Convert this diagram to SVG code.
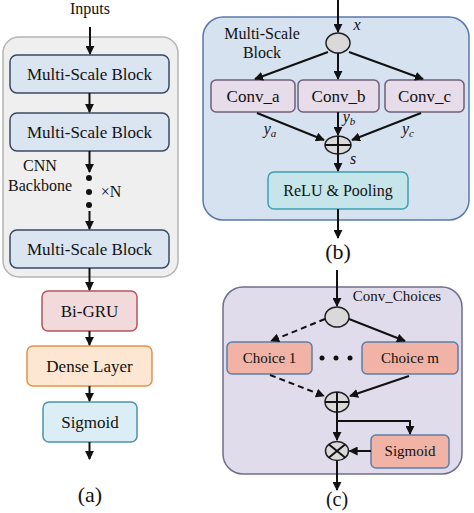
<svg xmlns="http://www.w3.org/2000/svg" width="474" height="513" viewBox="0 0 474 513">
<defs>
<marker id="ah" viewBox="0 0 10 10" refX="9" refY="5" markerWidth="4.5" markerHeight="4.5" orient="auto" markerUnits="strokeWidth">
<path d="M0,0 L10,5 L0,10 Z" fill="#111"/>
</marker>
<style>
text{font-family:"Liberation Serif","Times New Roman",serif;fill:#111;text-anchor:middle}
.t17{font-size:17px}.t16{font-size:16px}.t15{font-size:15px}.cap{font-size:22px}
.it{font-style:italic}
.msb{fill:#dbe5f1;stroke:#3b4a63;stroke-width:1.5}
.conv{fill:#e6dcea;stroke:#6d5f7a;stroke-width:1.5}
.choice{fill:#f0b3a6;stroke:#5a7fa8;stroke-width:1.5}
.circ{fill:#d9d9d9;stroke:#222;stroke-width:1.5}
.ln{stroke:#111;stroke-width:2;fill:none}
.arr{stroke:#111;stroke-width:2;fill:none;marker-end:url(#ah)}
.dash{stroke-dasharray:6,4}
</style>
</defs>
<rect width="474" height="513" fill="#fff"/>

<!-- Panel (a) -->
<g id="backbone">
<rect x="3" y="37" width="175" height="240" rx="16" fill="#efefef" stroke="#b5b5b5" stroke-width="1.5"/>
<text class="t16" x="40" y="171">CNN</text>
<text class="t16" x="40" y="191">Backbone</text>
</g>
<text class="t16" x="90" y="14">Inputs</text>
<g id="msb1"><rect class="msb" x="10" y="55" width="159" height="38" rx="7"/><text class="t17" x="89.5" y="80">Multi-Scale Block</text></g>
<g id="msb2"><rect class="msb" x="10" y="113" width="159" height="38" rx="7"/><text class="t17" x="89.5" y="138">Multi-Scale Block</text></g>
<g id="msb3"><rect class="msb" x="10" y="230" width="159" height="38" rx="7"/><text class="t17" x="89.5" y="255">Multi-Scale Block</text></g>
<g id="dots-a" fill="#111">
<circle cx="89" cy="178" r="3"/><circle cx="89" cy="192" r="3"/><circle cx="89" cy="205" r="3"/>
</g>
<text class="t16" x="111" y="197">×N</text>
<g id="bigru"><rect x="42" y="291" width="95" height="40" rx="6" fill="#f2d9dc" stroke="#b5555e" stroke-width="1.5"/><text class="t17" x="89.5" y="317">Bi-GRU</text></g>
<g id="dense"><rect x="27" y="346" width="125" height="40" rx="6" fill="#fde6d2" stroke="#e8914a" stroke-width="1.5"/><text class="t17" x="89.5" y="372">Dense Layer</text></g>
<g id="sigmoid-a"><rect x="43" y="402" width="94" height="40" rx="6" fill="#dceef5" stroke="#4b93ab" stroke-width="1.5"/><text class="t17" x="90" y="428">Sigmoid</text></g>
<text class="cap" x="90" y="502">(a)</text>

<!-- Panel (b) -->
<g id="msb-detail">
<rect x="203" y="17" width="266" height="203" rx="20" fill="#d6e2ef" stroke="#5879a8" stroke-width="1.5"/>
<text class="t16" x="262" y="39">Multi-Scale</text>
<text class="t16" x="262" y="58">Block</text>
</g>
<g id="split-b"><ellipse class="circ" cx="338" cy="43" rx="12" ry="10"/></g>
<text class="t16 it" x="357" y="30">x</text>
<g id="conv-a"><rect class="conv" x="211" y="80" width="84" height="32" rx="5"/><text class="t17" x="253" y="102">Conv_a</text></g>
<g id="conv-b"><rect class="conv" x="298" y="80" width="81" height="32" rx="5"/><text class="t17" x="338.5" y="102">Conv_b</text></g>
<g id="conv-c"><rect class="conv" x="385" y="80" width="79" height="32" rx="5"/><text class="t17" x="424.5" y="102">Conv_c</text></g>
<g id="sum-b">
<ellipse class="circ" cx="338" cy="145" rx="13" ry="9"/>
<path class="ln" d="M325,145 H351 M338,136 V154" stroke-width="1.5"/>
</g>
<g id="relu"><rect x="268" y="172" width="140" height="37" rx="6" fill="#c6e5eb" stroke="#3da0b0" stroke-width="1.5"/><text class="t16" x="338" y="196">ReLU &amp; Pooling</text></g>
<text class="t16 it" x="270" y="134">y<tspan font-size="11" dy="3">a</tspan></text>
<text class="t16 it" x="349" y="122">y<tspan font-size="11" dy="3">b</tspan></text>
<text class="t16 it" x="408" y="134">y<tspan font-size="11" dy="3">c</tspan></text>
<text class="t16 it" x="353" y="164">s</text>
<text class="cap" x="338" y="259">(b)</text>

<!-- Panel (c) -->
<g id="conv-choices">
<rect x="223" y="287" width="239" height="187" rx="20" fill="#e1dcec" stroke="#6e6e8e" stroke-width="1.5"/>
<text class="t15" x="397" y="301">Conv_Choices</text>
</g>
<g id="split-c"><ellipse class="circ" cx="337" cy="317" rx="12" ry="10"/></g>
<g id="choice1"><rect class="choice" x="227" y="342" width="85" height="32" rx="5"/><text class="t15" x="269.5" y="363">Choice 1</text></g>
<g id="dots-c" fill="#111"><circle cx="322" cy="358" r="2.5"/><circle cx="336" cy="358" r="2.5"/><circle cx="350" cy="358" r="2.5"/></g>
<g id="choicem"><rect class="choice" x="362" y="342" width="96" height="32" rx="5"/><text class="t15" x="410" y="363">Choice m</text></g>
<g id="sum-c">
<ellipse class="circ" cx="337" cy="402" rx="12" ry="10"/>
<path class="ln" d="M325,402 H349 M337,392 V412" stroke-width="1.5"/>
</g>
<g id="mul-c">
<ellipse class="circ" cx="337" cy="451" rx="11.5" ry="9.5"/>
<path class="ln" d="M329,444.5 L345,457.5 M345,444.5 L329,457.5" stroke-width="1.5"/>
</g>
<g id="sigmoid-c"><rect class="choice" x="371" y="435" width="78" height="33" rx="5"/><text class="t15" x="410" y="456">Sigmoid</text></g>
<text x="337" y="506" font-size="20px">(c)</text>

<!-- Connectors -->
<g id="connectors">
<path class="arr" d="M90,27 V54"/>
<path class="arr" d="M89.5,93 V112"/>
<path class="arr" d="M89.5,151 V172"/>
<path class="arr" d="M89.5,211 V229"/>
<path class="arr" d="M89.5,268 V290"/>
<path class="arr" d="M89.5,331 V345"/>
<path class="arr" d="M89.5,386 V401"/>
<path class="arr" d="M89.5,442 V459"/>

<path class="arr" d="M338,0 V32"/>
<path class="arr" d="M328,52 L255,79"/>
<path class="arr" d="M338,53 V79"/>
<path class="arr" d="M349,52 L423,79"/>
<path class="arr" d="M257,113 L324,140"/>
<path class="arr" d="M338,112 V135"/>
<path class="arr" d="M421,113 L352,140"/>
<path class="arr" d="M338,154 V171"/>
<path class="arr" d="M338,209 V238"/>

<path class="arr" d="M337,270 V306"/>
<path class="arr dash" d="M325,319 L271,341"/>
<path class="arr" d="M349,319 L405,341"/>
<path class="arr dash" d="M270,375 L324,396"/>
<path class="arr" d="M409,376 L350,396"/>
<path class="arr" d="M337,412 V440"/>
<path class="arr" d="M337,421 H410 V434"/>
<path class="arr" d="M371,451 H349.5"/>
<path class="arr" d="M337,460.5 V490"/>
</g>
</svg>
